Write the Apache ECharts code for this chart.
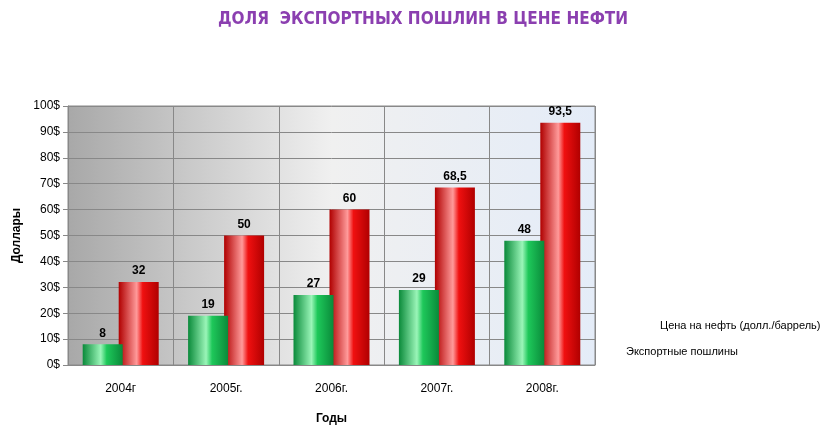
<!DOCTYPE html>
<html><head><meta charset="utf-8">
<script src="https://cdn.jsdelivr.net/npm/echarts@6/dist/echarts.min.js"></script>
<style>html,body{margin:0;background:#fff}#c{width:825px;height:437px}</style>
</head><body><div id="c"></div>
<script>
const categories = ['2004г', '2005г.', '2006г.', '2007г.', '2008г.'];
const oilPrice = [32, 50, 60, 68.5, 93.5];
const exportDuty = [8, 19, 27, 29, 48];
const seriesNames = ['Цена на нефть (долл./баррель)', 'Экспортные пошлины'];

const chart = echarts.init(document.getElementById('c'));
const cyl = (dark, mid, light) => new echarts.graphic.LinearGradient(0, 0, 1, 0, [
  {offset: 0, color: dark}, {offset: 0.45, color: light}, {offset: 0.6, color: mid}, {offset: 1, color: dark}]);
chart.setOption({
  animation: false,
  title: {text: 'ДОЛЯ  ЭКСПОРТНЫХ ПОШЛИН В ЦЕНЕ НЕФТИ', left: 418, top: 6, textAlign: 'center',
    textStyle: {color: '#8b3fb0', fontSize: 17, fontWeight: 'bold', fontFamily: 'DejaVu Sans Condensed, Liberation Sans'}},
  grid: {left: 68, right: 230, top: 106, bottom: 72, show: true,
    backgroundColor: new echarts.graphic.LinearGradient(0, 0, 1, 0, [{offset: 0, color: '#a8a8a8'}, {offset: 0.5, color: '#f0f0f0'}, {offset: 1, color: '#e4ecf8'}]),
    borderColor: '#888'},
  xAxis: {type: 'category', data: categories, name: 'Годы', nameLocation: 'middle', nameGap: 48,
    nameTextStyle: {fontWeight: 'bold', fontSize: 12, color: '#000'},
    axisLabel: {color: '#000', fontSize: 12, margin: 18}, axisTick: {show: false},
    axisLine: {lineStyle: {color: '#888'}}, splitLine: {show: true, lineStyle: {color: '#888'}}},
  yAxis: {type: 'value', min: 0, max: 100, interval: 10, name: 'Доллары', nameLocation: 'middle', nameGap: 45,
    nameTextStyle: {fontWeight: 'bold', fontSize: 12, color: '#000'},
    axisLabel: {formatter: '{value}$', color: '#000', fontSize: 12},
    axisLine: {show: true, lineStyle: {color: '#888'}}, axisTick: {show: true},
    splitLine: {lineStyle: {color: '#888'}}},
  series: [
    {name: seriesNames[1], type: 'bar', data: exportDuty, barWidth: 40, barGap: '-10%', z: 3,
      itemStyle: {color: cyl('#0a8a3a', '#1ec85a', '#9af5b8')},
      label: {show: true, position: 'top', color: '#000', fontSize: 12, fontWeight: 'bold'}},
    {name: seriesNames[0], type: 'bar', data: oilPrice, barWidth: 40, z: 2,
      itemStyle: {color: cyl('#b00000', '#f01010', '#ff9a9a')},
      label: {show: true, position: 'top', color: '#000', fontSize: 12, fontWeight: 'bold', formatter: p => String(p.value).replace('.', ',')}}
  ],
  graphic: [
    {type: 'text', left: 660, top: 320, style: {text: seriesNames[0], fontSize: 11, fill: '#000'}},
    {type: 'text', left: 626, top: 346, style: {text: seriesNames[1], fontSize: 11, fill: '#000'}}
  ]
});
</script></body></html>
